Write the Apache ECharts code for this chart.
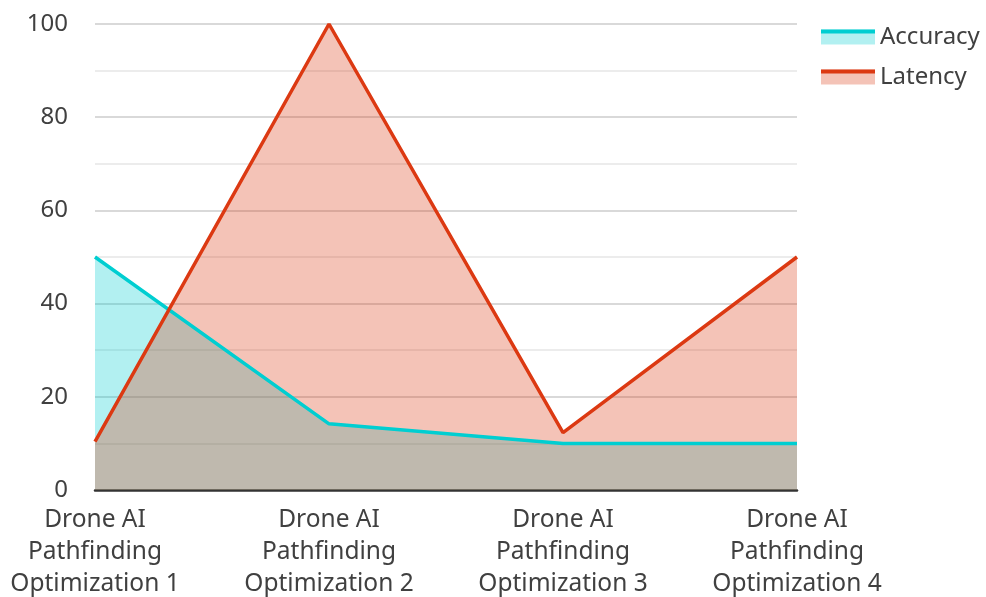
<!DOCTYPE html>
<html lang="en">
    <head>
        <meta charset="UTF-8">
        <title>Drone AI Pathfinding</title>
        <script src="https://cdn.jsdelivr.net/npm/echarts@6/dist/echarts.min.js"></script>
        <style>
            html, body { margin: 0; padding: 0; background: #fff; }
        </style>
    </head>
    <body>
        <div id="main" style="width: 986px;height:597px;"></div>
        <script>
            var categories = [
                'Drone AI\nPathfinding\nOptimization 1',
                'Drone AI\nPathfinding\nOptimization 2',
                'Drone AI\nPathfinding\nOptimization 3',
                'Drone AI\nPathfinding\nOptimization 4'
            ];
            var accuracy = [50, 14.2, 10, 10];
            var latency = [10.4, 100, 12.3, 50];
            var seriesNames = ['Accuracy', 'Latency'];
            var colors = ['#00CED1', '#DC3912'];

            var myChart = echarts.init(document.getElementById('main'));
            var font = '"Noto Sans", "Open Sans", sans-serif';

            // areas go under both lines, so each series is split in two
            function areaSeries(name, data, color) {
                return {
                    name: name, type: 'line', data: data, z: 1,
                    symbol: 'none', silent: true,
                    itemStyle: { color: color },
                    lineStyle: { width: 0, opacity: 0 },
                    areaStyle: { color: color, opacity: 0.3 }
                };
            }
            function lineSeries(name, data, color) {
                return {
                    name: name, type: 'line', data: data, z: 3,
                    symbol: 'none',
                    itemStyle: { color: color },
                    lineStyle: { width: 3.5, color: color }
                };
            }

            var legendText = { fontSize: 24, fontFamily: font, color: '#404040', lineHeight: 40 };

            var option = {
                color: colors,
                animation: false,
                grid: { left: 95, right: 189, top: 24, bottom: 107, outerBoundsMode: 'none' },
                legend: [{
                    data: seriesNames,
                    orient: 'vertical',
                    left: 821, top: 17,
                    padding: 0, itemGap: 0,
                    itemWidth: 54, itemHeight: 15,
                    icon: 'rect',
                    itemStyle: { opacity: 0.3 },
                    textStyle: legendText
                }, {
                    data: seriesNames,
                    orient: 'vertical',
                    left: 821, top: 11.5,
                    padding: 0, itemGap: 0,
                    itemWidth: 54, itemHeight: 4,
                    icon: 'rect',
                    itemStyle: { opacity: 1 },
                    textStyle: Object.assign({}, legendText, { color: 'rgba(0,0,0,0)' })
                }],
                xAxis: {
                    type: 'category',
                    data: categories,
                    boundaryGap: false,
                    axisLine: { lineStyle: { color: '#333', width: 2.5 } },
                    axisTick: { show: false },
                    axisLabel: {
                        fontSize: 24.5, fontFamily: font, color: '#404040',
                        lineHeight: 32, margin: 14, interval: 0
                    },
                    splitLine: { show: false }
                },
                yAxis: {
                    type: 'value',
                    min: 0, max: 100, interval: 20,
                    axisLine: { show: false },
                    axisTick: { show: false },
                    axisLabel: { fontSize: 24, fontFamily: font, color: '#404040', margin: 27 },
                    splitLine: { lineStyle: { color: '#cccccc', width: 1.5 } },
                    minorTick: { show: false, splitNumber: 2 },
                    minorSplitLine: { show: true, lineStyle: { color: '#e6e6e6', width: 1.5 } }
                },
                series: [
                    areaSeries(seriesNames[0], accuracy, colors[0]),
                    areaSeries(seriesNames[1], latency, colors[1]),
                    lineSeries(seriesNames[0], accuracy, colors[0]),
                    lineSeries(seriesNames[1], latency, colors[1])
                ]
            };

            myChart.setOption(option);
        </script>
    </body>
</html>
